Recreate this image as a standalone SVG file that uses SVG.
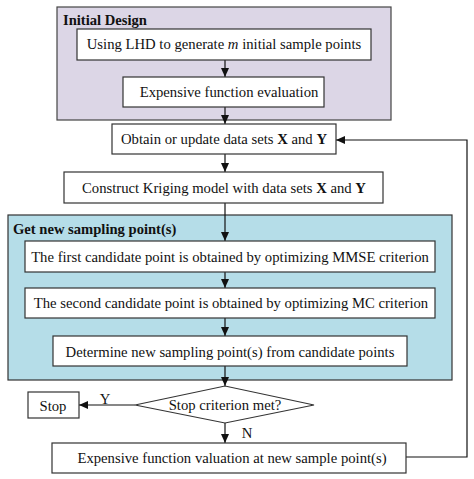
<svg xmlns="http://www.w3.org/2000/svg" width="474" height="479" viewBox="0 0 474 479">
<style>
.box{fill:#fff;stroke:#333;stroke-width:1.2}
.t{font-family:"Liberation Serif","Times New Roman",serif;font-size:14.7px;fill:#111;text-anchor:middle}
.h{font-family:"Liberation Serif","Times New Roman",serif;font-size:14.6px;font-weight:bold;fill:#111}
.c{fill:none;stroke:#111;stroke-width:1.2}
</style>
<defs>
<marker id="ah" markerWidth="10" markerHeight="10" refX="9" refY="5" orient="auto" markerUnits="userSpaceOnUse">
<path d="M0,1 L9,5 L0,9 Z" fill="#111"/>
</marker>
</defs>
<rect width="474" height="479" fill="#fff"/>
<g id="initial-design">
<rect x="57" y="7" width="334" height="113" fill="#dcd6e6" stroke="#444" stroke-width="1.2"/>
<text class="h" x="63" y="25">Initial Design</text>
</g>
<g id="get-new-sampling">
<rect x="8" y="215" width="444" height="165" fill="#b5dde8" stroke="#333" stroke-width="1.2"/>
<text class="h" x="13" y="234">Get new sampling point(s)</text>
</g>
<g id="connectors">
<line class="c" x1="225" y1="60" x2="225" y2="77" marker-end="url(#ah)"/>
<line class="c" x1="225" y1="107" x2="225" y2="124" marker-end="url(#ah)"/>
<line class="c" x1="225" y1="154" x2="225" y2="172" marker-end="url(#ah)"/>
<line class="c" x1="225" y1="203" x2="225" y2="241" marker-end="url(#ah)"/>
<line class="c" x1="225" y1="272" x2="225" y2="288" marker-end="url(#ah)"/>
<line class="c" x1="225" y1="318" x2="225" y2="336" marker-end="url(#ah)"/>
<line class="c" x1="225" y1="366" x2="225" y2="386" marker-end="url(#ah)"/>
<line class="c" x1="135" y1="405" x2="79" y2="405" marker-end="url(#ah)"/>
<line class="c" x1="225" y1="423" x2="225" y2="443" marker-end="url(#ah)"/>
<polyline class="c" points="406,457 467,457 467,140 336,140" marker-end="url(#ah)"/>
<text class="t" x="105" y="404">Y</text>
<text class="t" x="247" y="438">N</text>
</g>
<g id="n1"><rect class="box" x="77" y="29" width="294" height="31"/>
<text class="t" x="224" y="49">Using LHD to generate <tspan font-style="italic">m</tspan> initial sample points</text></g>
<g id="n2"><rect class="box" x="123" y="77" width="201" height="30"/>
<text class="t" x="229" y="97">Expensive function evaluation</text></g>
<g id="n3"><rect class="box" x="112" y="124" width="224" height="30"/>
<text class="t" x="224" y="144">Obtain or update data sets <tspan font-weight="bold">X</tspan> and <tspan font-weight="bold">Y</tspan></text></g>
<g id="n4"><rect class="box" x="64" y="172" width="319" height="31"/>
<text class="t" x="224" y="193">Construct Kriging model with data sets <tspan font-weight="bold">X</tspan> and <tspan font-weight="bold">Y</tspan></text></g>
<g id="n5"><rect class="box" x="25" y="241" width="410" height="31"/>
<text class="t" x="230" y="262">The first candidate point is obtained by optimizing MMSE criterion</text></g>
<g id="n6"><rect class="box" x="25" y="288" width="410" height="30"/>
<text class="t" x="231" y="308">The second candidate point is obtained by optimizing MC criterion</text></g>
<g id="n7"><rect class="box" x="53" y="336" width="354" height="30"/>
<text class="t" x="230" y="357">Determine new sampling point(s) from candidate points</text></g>
<g id="n8"><polygon class="box" points="135,405 225,386 314,405 225,423"/>
<text class="t" x="225" y="410">Stop criterion met?</text></g>
<g id="stop"><rect class="box" x="28" y="392" width="51" height="26"/>
<text class="t" x="53" y="411">Stop</text></g>
<g id="n9"><rect class="box" x="52" y="443" width="354" height="30"/>
<text class="t" x="232" y="463">Expensive function valuation at new sample point(s)</text></g>
</svg>
